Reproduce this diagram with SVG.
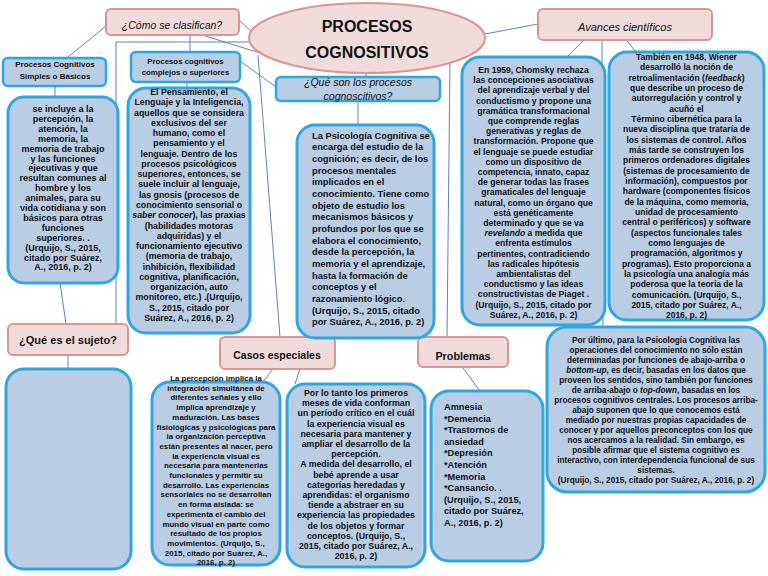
<svg xmlns="http://www.w3.org/2000/svg" width="768" height="576" viewBox="0 0 768 576">
<style>
.pk{fill:#f2dcdb;stroke:#d99694;stroke-width:2}
.hb{fill:#b9cde5;stroke:#2ea7e0;stroke-width:2.5}
.cb{fill:#b9cde5;stroke:#2ea7e0;stroke-width:3}
.ln{stroke:#5b84c0;stroke-width:1;fill:none}
.t{font-family:"Liberation Sans",Arial,sans-serif;font-weight:bold;fill:#111}
.ti{font-family:"Liberation Sans",Arial,sans-serif;font-style:italic;fill:#111}
.m{text-anchor:middle}
</style>
<rect width="768" height="576" fill="#fff"/>
<g id="connectors">
<line class="ln" x1="239" y1="20" x2="252" y2="32"/>
<line class="ln" x1="202" y1="35" x2="260" y2="53"/>
<line class="ln" x1="106" y1="26" x2="67" y2="58"/>
<line class="ln" x1="190" y1="34" x2="190" y2="52"/>
<polyline class="ln" points="250,42 116,42 116,324"/>
<line class="ln" x1="240" y1="61" x2="276" y2="87"/>
<line class="ln" x1="187" y1="82" x2="187" y2="88"/>
<line class="ln" x1="55" y1="86" x2="55" y2="97"/>
<line class="ln" x1="60" y1="283" x2="66" y2="324"/>
<line class="ln" x1="68" y1="355" x2="68" y2="369"/>
<line class="ln" x1="366" y1="72" x2="366" y2="77"/>
<line class="ln" x1="358" y1="101" x2="358" y2="125"/>
<line class="ln" x1="258" y1="55" x2="280" y2="337"/>
<line class="ln" x1="450" y1="60" x2="447" y2="337"/>
<line class="ln" x1="485" y1="34" x2="538" y2="24"/>
<line class="ln" x1="583" y1="41" x2="566" y2="58"/>
<line class="ln" x1="627" y1="41" x2="636" y2="52"/>
<line class="ln" x1="602" y1="41" x2="603" y2="327"/>
<line class="ln" x1="273" y1="369" x2="262" y2="383"/>
<line class="ln" x1="300" y1="369" x2="295" y2="384"/>
<line class="ln" x1="463" y1="368" x2="480" y2="391"/>
</g>
<g id="title">
<ellipse class="pk" cx="367" cy="38" rx="118" ry="35"/>
<text class="t m" x="367" y="32" font-size="16">PROCESOS</text>
<text class="t m" x="367" y="58" font-size="16">COGNOSITIVOS</text>
</g>
<g id="como">
<rect class="pk" x="106" y="9" width="133" height="26" rx="5"/>
<text class="ti m" x="172" y="29" font-size="10.5">¿Cómo se clasifican?</text>
</g>
<g id="avances">
<rect class="pk" x="538" y="9" width="174" height="31" rx="5"/>
<text class="ti m" x="625" y="31" font-size="11">Avances científicos</text>
</g>
<g id="sujeto">
<rect class="pk" x="8" y="324" width="120" height="31" rx="5"/>
<text class="t m" x="68" y="344" font-size="11">¿Qué es el sujeto?</text>
</g>
<g id="casos">
<rect class="pk" x="220" y="337" width="115" height="32" rx="5"/>
<text class="t m" x="277" y="359" font-size="10.5">Casos especiales</text>
</g>
<g id="problemas">
<rect class="pk" x="418" y="337" width="90" height="30" rx="5"/>
<text class="t m" x="463" y="360" font-size="10.8">Problemas</text>
</g>
<g id="simples">
<rect class="hb" x="3" y="58" width="103" height="28" rx="5"/>
<text class="t m" font-size="8" x="55" y="67">Procesos Cognitivos<tspan x="55" dy="12">Simples o Básicos</tspan></text>
</g>
<g id="complejos">
<rect class="hb" x="131" y="52" width="109" height="30" rx="5"/>
<text class="t m" font-size="7.8" x="185.5" y="64">Procesos cognitivos<tspan x="185.5" dy="10.5">complejos o superiores</tspan></text>
</g>
<g id="que-son">
<rect class="hb" x="276" y="77" width="164" height="24" rx="5"/>
<text class="ti m" font-size="10.5" x="358" y="86">¿Qué son los procesos<tspan x="358" dy="14">cognoscitivos?</tspan></text>
</g>
<g id="simples-texto">
<rect class="cb" x="8" y="97" width="110" height="186" rx="16"/>
<text class="t m" font-size="9" x="63" y="112">se incluye a la<tspan x="63" dy="9.9">percepción, la</tspan><tspan x="63" dy="9.9">atención, la</tspan><tspan x="63" dy="9.9">memoria, la</tspan><tspan x="63" dy="9.9">memoria de trabajo</tspan><tspan x="63" dy="9.9">y las funciones</tspan><tspan x="63" dy="9.9">ejecutivas y que</tspan><tspan x="63" dy="9.9">resultan comunes al</tspan><tspan x="63" dy="9.9">hombre y los</tspan><tspan x="63" dy="9.9">animales, para su</tspan><tspan x="63" dy="9.9">vida cotidiana y son</tspan><tspan x="63" dy="9.9">básicos para otras</tspan><tspan x="63" dy="9.9">funciones</tspan><tspan x="63" dy="9.9">superiores. .</tspan><tspan x="63" dy="9.9">(Urquijo, S., 2015,</tspan><tspan x="63" dy="9.9">citado por Suárez,</tspan><tspan x="63" dy="9.9">A., 2016, p. 2)</tspan></text>
</g>
<g id="complejos-texto">
<rect class="cb" x="128" y="88" width="122" height="245" rx="18"/>
<text class="t m" font-size="8.8" x="189" y="95">El Pensamiento, el<tspan x="189" dy="10.27">Lenguaje y la Inteligencia,</tspan><tspan x="189" dy="10.27">aquellos que se considera</tspan><tspan x="189" dy="10.27">exclusivos del ser</tspan><tspan x="189" dy="10.27">humano, como el</tspan><tspan x="189" dy="10.27">pensamiento y el</tspan><tspan x="189" dy="10.27">lenguaje. Dentro de los</tspan><tspan x="189" dy="10.27">procesos psicológicos</tspan><tspan x="189" dy="10.27">superiores, entonces, se</tspan><tspan x="189" dy="10.27">suele incluir al lenguaje,</tspan><tspan x="189" dy="10.27">las gnosis (procesos de</tspan><tspan x="189" dy="10.27">conocimiento sensorial o</tspan><tspan x="189" dy="10.27"><tspan font-style="italic">saber conocer</tspan>), las praxias</tspan><tspan x="189" dy="10.27">(habilidades motoras</tspan><tspan x="189" dy="10.27">adquiridas) y el</tspan><tspan x="189" dy="10.27">funcionamiento ejecutivo</tspan><tspan x="189" dy="10.27">(memoria de trabajo,</tspan><tspan x="189" dy="10.27">inhibición, flexibilidad</tspan><tspan x="189" dy="10.27">cognitiva, planificación,</tspan><tspan x="189" dy="10.27">organización, auto</tspan><tspan x="189" dy="10.27">monitoreo, etc.) .(Urquijo,</tspan><tspan x="189" dy="10.27">S., 2015, citado por</tspan><tspan x="189" dy="10.27">Suárez, A., 2016, p. 2)</tspan></text>
</g>
<g id="que-son-texto">
<rect class="cb" x="297" y="125" width="137" height="213" rx="18"/>
<text class="t" font-size="9.3" x="312" y="138.5">La Psicología Cognitiva se<tspan x="312" dy="11.67">encarga del estudio de la</tspan><tspan x="312" dy="11.67">cognición; es decir, de los</tspan><tspan x="312" dy="11.67">procesos mentales</tspan><tspan x="312" dy="11.67">implicados en el</tspan><tspan x="312" dy="11.67">conocimiento. Tiene como</tspan><tspan x="312" dy="11.67">objeto de estudio los</tspan><tspan x="312" dy="11.67">mecanismos básicos y</tspan><tspan x="312" dy="11.67">profundos por los que se</tspan><tspan x="312" dy="11.67">elabora el conocimiento,</tspan><tspan x="312" dy="11.67">desde la percepción, la</tspan><tspan x="312" dy="11.67">memoria y el aprendizaje,</tspan><tspan x="312" dy="11.67">hasta la formación de</tspan><tspan x="312" dy="11.67">conceptos y el</tspan><tspan x="312" dy="11.67">razonamiento lógico.</tspan><tspan x="312" dy="11.67">(Urquijo, S., 2015, citado</tspan><tspan x="312" dy="11.67">por Suárez, A., 2016, p. 2)</tspan></text>
</g>
<g id="chomsky">
<rect class="cb" x="462" y="57" width="143" height="268" rx="18"/>
<text class="t m" font-size="8.6" x="533.5" y="73">En 1959, Chomsky rechaza<tspan x="533.5" dy="10.2">las concepciones asociativas</tspan><tspan x="533.5" dy="10.2">del aprendizaje verbal y del</tspan><tspan x="533.5" dy="10.2">conductismo y propone una</tspan><tspan x="533.5" dy="10.2">gramática transformacional</tspan><tspan x="533.5" dy="10.2">que comprende reglas</tspan><tspan x="533.5" dy="10.2">generativas y reglas de</tspan><tspan x="533.5" dy="10.2">transformación. Propone que</tspan><tspan x="533.5" dy="10.2">el lenguaje se puede estudiar</tspan><tspan x="533.5" dy="10.2">como un dispositivo de</tspan><tspan x="533.5" dy="10.2">competencia, innato, capaz</tspan><tspan x="533.5" dy="10.2">de generar todas las frases</tspan><tspan x="533.5" dy="10.2">gramaticales del lenguaje</tspan><tspan x="533.5" dy="10.2">natural, como un órgano que</tspan><tspan x="533.5" dy="10.2">está genéticamente</tspan><tspan x="533.5" dy="10.2">determinado y que se va</tspan><tspan x="533.5" dy="10.2"><tspan font-style="italic">revelando</tspan> a medida que</tspan><tspan x="533.5" dy="10.2">enfrenta estímulos</tspan><tspan x="533.5" dy="10.2">pertinentes, contradiciendo</tspan><tspan x="533.5" dy="10.2">las radicales hipótesis</tspan><tspan x="533.5" dy="10.2">ambientalistas del</tspan><tspan x="533.5" dy="10.2">conductismo y las ideas</tspan><tspan x="533.5" dy="10.2">constructivistas de Piaget  .</tspan><tspan x="533.5" dy="10.2">(Urquijo, S., 2015, citado por</tspan><tspan x="533.5" dy="10.2">Suárez, A., 2016, p. 2)</tspan></text>
</g>
<g id="wiener">
<rect class="cb" x="609" y="52" width="155" height="268" rx="18"/>
<text class="t m" font-size="8.5" x="686.5" y="60">También en 1948, Wiener<tspan x="686.5" dy="10.33">desarrolló la noción de</tspan><tspan x="686.5" dy="10.33">retroalimentación (<tspan font-style="italic">feedback</tspan>)</tspan><tspan x="686.5" dy="10.33">que describe un proceso de</tspan><tspan x="686.5" dy="10.33">autorregulación y control y</tspan><tspan x="686.5" dy="10.33">acuñó el</tspan><tspan x="686.5" dy="10.33">Término cibernética para la</tspan><tspan x="686.5" dy="10.33">nueva disciplina que trataría de</tspan><tspan x="686.5" dy="10.33">los sistemas de control. Años</tspan><tspan x="686.5" dy="10.33">más tarde se construyen los</tspan><tspan x="686.5" dy="10.33">primeros ordenadores digitales</tspan><tspan x="686.5" dy="10.33">(sistemas de procesamiento de</tspan><tspan x="686.5" dy="10.33">información), compuestos por</tspan><tspan x="686.5" dy="10.33">hardware (componentes físicos</tspan><tspan x="686.5" dy="10.33">de la máquina, como memoria,</tspan><tspan x="686.5" dy="10.33">unidad de procesamiento</tspan><tspan x="686.5" dy="10.33">central o periféricos) y software</tspan><tspan x="686.5" dy="10.33">(aspectos funcionales tales</tspan><tspan x="686.5" dy="10.33">como lenguajes de</tspan><tspan x="686.5" dy="10.33">programación, algoritmos y</tspan><tspan x="686.5" dy="10.33">programas). Esto proporciona a</tspan><tspan x="686.5" dy="10.33">la psicología una analogía más</tspan><tspan x="686.5" dy="10.33">poderosa que la teoría de la</tspan><tspan x="686.5" dy="10.33">comunicación.  (Urquijo, S.,</tspan><tspan x="686.5" dy="10.33">2015, citado por Suárez, A.,</tspan><tspan x="686.5" dy="10.33">2016, p. 2)</tspan></text>
</g>
<g id="ultimo">
<rect class="cb" x="547" y="327" width="218" height="165" rx="20"/>
<text class="t m" font-size="8.2" x="656" y="343">Por último, para la Psicología Cognitiva las<tspan x="656" dy="10">operaciones del conocimiento no sólo están</tspan><tspan x="656" dy="10">determinadas por funciones de abajo-arriba o</tspan><tspan x="656" dy="10"><tspan font-style="italic">bottom-up</tspan>, es decir, basadas en los datos que</tspan><tspan x="656" dy="10">proveen los sentidos, sino también por funciones</tspan><tspan x="656" dy="10">de arriba-abajo o <tspan font-style="italic">top-down</tspan>, basadas en los</tspan><tspan x="656" dy="10">procesos cognitivos centrales. Los procesos arriba-</tspan><tspan x="656" dy="10">abajo suponen que lo que conocemos está</tspan><tspan x="656" dy="10">mediado por nuestras propias capacidades de</tspan><tspan x="656" dy="10">conocer y por aquellos preconceptos con los que</tspan><tspan x="656" dy="10">nos acercamos a la realidad. Sin embargo, es</tspan><tspan x="656" dy="10">posible afirmar que el sistema cognitivo es</tspan><tspan x="656" dy="10">interactivo, con interdependencia funcional de sus</tspan><tspan x="656" dy="10">sistemas.</tspan><tspan x="656" dy="10">(Urquijo, S., 2015, citado por Suárez, A., 2016, p. 2)</tspan></text>
</g>
<g id="sujeto-texto">
<rect class="cb" x="6" y="369" width="125" height="200" rx="18"/>
</g>
<g id="percepcion">
<rect class="cb" x="152" y="382" width="128" height="183" rx="18"/>
<text class="t m" font-size="7.9" x="216" y="381">La percepción implica la<tspan x="216" dy="9.7">integración simultánea de</tspan><tspan x="216" dy="9.7">diferentes señales y ello</tspan><tspan x="216" dy="9.7">implica aprendizaje y</tspan><tspan x="216" dy="9.7">maduración. Las bases</tspan><tspan x="216" dy="9.7">fisiológicas y psicológicas para</tspan><tspan x="216" dy="9.7">la organización perceptiva</tspan><tspan x="216" dy="9.7">están presentes al nacer, pero</tspan><tspan x="216" dy="9.7">la experiencia visual es</tspan><tspan x="216" dy="9.7">necesaria para mantenerlas</tspan><tspan x="216" dy="9.7">funcionales y permitir su</tspan><tspan x="216" dy="9.7">desarrollo. Las experiencias</tspan><tspan x="216" dy="9.7">sensoriales no se desarrollan</tspan><tspan x="216" dy="9.7">en forma aislada: se</tspan><tspan x="216" dy="9.7">experimenta el cambio del</tspan><tspan x="216" dy="9.7">mundo visual en parte como</tspan><tspan x="216" dy="9.7">resultado de los propios</tspan><tspan x="216" dy="9.7">movimientos. (Urquijo, S.,</tspan><tspan x="216" dy="9.7">2015, citado por Suárez, A.,</tspan><tspan x="216" dy="9.7">2016, p. 2)</tspan></text>
</g>
<g id="por-lo-tanto">
<rect class="cb" x="287" y="384" width="138" height="183" rx="18"/>
<text class="t m" font-size="8.8" x="356" y="396">Por lo tanto los primeros<tspan x="356" dy="10.2">meses de vida conforman</tspan><tspan x="356" dy="10.2">un período crítico en el cuál</tspan><tspan x="356" dy="10.2">la experiencia visual es</tspan><tspan x="356" dy="10.2">necesaria para mantener y</tspan><tspan x="356" dy="10.2">ampliar el desarrollo de la</tspan><tspan x="356" dy="10.2">percepción.</tspan><tspan x="356" dy="10.2">A medida del desarrollo, el</tspan><tspan x="356" dy="10.2">bebé aprende a usar</tspan><tspan x="356" dy="10.2">categorías heredadas y</tspan><tspan x="356" dy="10.2">aprendidas: el organismo</tspan><tspan x="356" dy="10.2">tiende a abstraer en su</tspan><tspan x="356" dy="10.2">experiencia las propiedades</tspan><tspan x="356" dy="10.2">de los objetos y formar</tspan><tspan x="356" dy="10.2">conceptos.  (Urquijo, S.,</tspan><tspan x="356" dy="10.2">2015, citado por Suárez, A.,</tspan><tspan x="356" dy="10.2">2016, p. 2)</tspan></text>
</g>
<g id="problemas-texto">
<rect class="cb" x="431" y="391" width="112" height="170" rx="18"/>
<text class="t" font-size="9.2" x="444" y="410">Amnesia<tspan x="444" dy="11.6">*Demencia</tspan><tspan x="444" dy="11.6">*Trastornos de</tspan><tspan x="444" dy="11.6">ansiedad</tspan><tspan x="444" dy="11.6">*Depresión</tspan><tspan x="444" dy="11.6">*Atención</tspan><tspan x="444" dy="11.6">*Memoria</tspan><tspan x="444" dy="11.6">*Cansancio. .</tspan><tspan x="444" dy="11.6">(Urquijo, S., 2015,</tspan><tspan x="444" dy="11.6">citado por Suárez,</tspan><tspan x="444" dy="11.6">A., 2016, p. 2)</tspan></text>
</g>
</svg>
